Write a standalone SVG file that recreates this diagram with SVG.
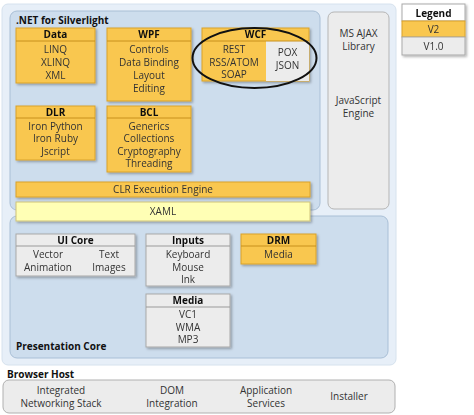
<svg xmlns="http://www.w3.org/2000/svg" width="474" height="415" viewBox="0 0 474 415">
<defs>
<style>
text{font-family:"Open Sans","Noto Sans","Liberation Sans",sans-serif;font-size:10px;fill:#333;text-anchor:middle}
.b{font-weight:bold;fill:#111}
.l{text-anchor:start}
.y{fill:#f9c74f;stroke:#d9a22a;stroke-width:1}
.g{fill:#ececec;stroke:#a9a9a9;stroke-width:1}
.hy{stroke:#c8901a;stroke-width:1}
.hg{stroke:#9a9a9a;stroke-width:1}
</style>
<filter id="sh" x="-10%" y="-10%" width="130%" height="140%"><feDropShadow dx="1.5" dy="1.5" stdDeviation="1" flood-color="#000" flood-opacity="0.3"/></filter>
</defs>
<rect width="474" height="415" fill="#fff"/>
<rect x="2" y="4" width="394" height="361" rx="6" fill="#e7eff8" stroke="#d6e2ee"/>
<g id="net-panel">
<rect x="10" y="11" width="310" height="199" rx="7" fill="#cddded" stroke="#a9bfd6"/>
<text class="b l" x="16" y="24">.NET for Silverlight</text>
</g>
<g id="presentation-panel">
<rect x="10" y="216" width="378" height="142" rx="7" fill="#cddded" stroke="#a9bfd6"/>
<text class="b l" x="16" y="350">Presentation Core</text>
</g>
<g id="ajax">
<rect x="328" y="12" width="61" height="197" rx="6" fill="#ececec" stroke="#b5b5b5"/>
<text x="358.5" y="37">MS AJAX</text><text x="358.5" y="50">Library</text>
<text x="358.5" y="104">JavaScript</text><text x="358.5" y="117">Engine</text>
</g>
<g id="legend" filter="url(#sh)">
<rect x="402" y="4" width="63" height="17" fill="#fff" stroke="#a9a9a9"/>
<rect x="402" y="21" width="63" height="16" class="y"/>
<rect x="402" y="37" width="63" height="18" class="g"/>
<text class="b" x="433.5" y="16.5">Legend</text>
<text x="433.5" y="32.5">V2</text>
<text x="433.5" y="49.5">V1.0</text>
</g>
<g id="data" filter="url(#sh)">
<rect x="16" y="28" width="79" height="55" class="y"/>
<line x1="16" y1="41" x2="95" y2="41" class="hy"/>
<text class="b" x="55.5" y="38">Data</text>
<text x="55.5" y="53">LINQ</text><text x="55.5" y="66">XLINQ</text><text x="55.5" y="79">XML</text>
</g>
<g id="wpf" filter="url(#sh)">
<rect x="107" y="28" width="84" height="73" class="y"/>
<line x1="107" y1="41" x2="191" y2="41" class="hy"/>
<text class="b" x="149" y="38">WPF</text>
<text x="149" y="53">Controls</text><text x="149" y="66">Data Binding</text><text x="149" y="79">Layout</text><text x="149" y="91.5">Editing</text>
</g>
<g id="wcf" filter="url(#sh)">
<rect x="202" y="28" width="107" height="53" class="y"/>
<rect x="266" y="41" width="43" height="40" fill="#ececec"/>
<line x1="202" y1="41" x2="309" y2="41" class="hy"/>
<text class="b" x="255.5" y="38">WCF</text>
<text x="234" y="53">REST</text><text x="234" y="65.5">RSS/ATOM</text><text x="234" y="78">SOAP</text>
<text x="287.5" y="56">POX</text><text x="287.5" y="68.5">JSON</text>
</g>
<g id="highlight">
<ellipse cx="254.5" cy="58" rx="62" ry="30" fill="none" stroke="#111" stroke-width="2"/>
</g>
<g id="dlr" filter="url(#sh)">
<rect x="16" y="106" width="79" height="54" class="y"/>
<line x1="16" y1="118" x2="95" y2="118" class="hy"/>
<text class="b" x="55.5" y="116">DLR</text>
<text x="55.5" y="129.5">Iron Python</text><text x="55.5" y="142">Iron Ruby</text><text x="55.5" y="154.5">Jscript</text>
</g>
<g id="bcl" filter="url(#sh)">
<rect x="107" y="106" width="84" height="66" class="y"/>
<line x1="107" y1="118" x2="191" y2="118" class="hy"/>
<text class="b" x="149" y="116">BCL</text>
<text x="149" y="129.5">Generics</text><text x="149" y="142">Collections</text><text x="149" y="154.5">Cryptography</text><text x="149" y="167">Threading</text>
</g>
<g id="clr" filter="url(#sh)">
<rect x="16" y="182" width="294" height="15" class="y"/>
<text x="163" y="193">CLR Execution Engine</text>
</g>
<g id="xaml" filter="url(#sh)">
<rect x="16" y="202" width="294" height="19" fill="#ffffb5" stroke="#cfc37a"/>
<text x="163" y="215">XAML</text>
</g>
<g id="uicore" filter="url(#sh)">
<rect x="16" y="234" width="119" height="42" class="g"/>
<line x1="16" y1="246" x2="135" y2="246" class="hg"/>
<text class="b" x="75.5" y="244">UI Core</text>
<text x="48" y="258">Vector</text><text x="48" y="270.5">Animation</text>
<text x="109" y="258">Text</text><text x="109" y="270.5">Images</text>
</g>
<g id="inputs" filter="url(#sh)">
<rect x="146" y="234" width="84" height="52" class="g"/>
<line x1="146" y1="246" x2="230" y2="246" class="hg"/>
<text class="b" x="188" y="244">Inputs</text>
<text x="188" y="258">Keyboard</text><text x="188" y="270.5">Mouse</text><text x="188" y="283">Ink</text>
</g>
<g id="media" filter="url(#sh)">
<rect x="146" y="294" width="84" height="53" class="g"/>
<line x1="146" y1="307" x2="230" y2="307" class="hg"/>
<text class="b" x="188" y="304">Media</text>
<text x="188" y="318">VC1</text><text x="188" y="330.5">WMA</text><text x="188" y="343">MP3</text>
</g>
<g id="drm" filter="url(#sh)">
<rect x="241" y="234" width="75" height="30" class="y"/>
<line x1="241" y1="246" x2="316" y2="246" class="hy"/>
<text class="b" x="278.5" y="244">DRM</text>
<text x="278.5" y="258">Media</text>
</g>
<g id="browser-host">
<text class="b l" x="7" y="378">Browser Host</text>
<rect x="3" y="380" width="392" height="33" rx="6" fill="#ececec" stroke="#b0b0b0"/>
<text x="61" y="394">Integrated</text><text x="61" y="407">Networking Stack</text>
<text x="172" y="394">DOM</text><text x="172" y="407">Integration</text>
<text x="266" y="394">Application</text><text x="266" y="407">Services</text>
<text x="349" y="400">Installer</text>
</g>
<g id="connectors"></g>
</svg>
